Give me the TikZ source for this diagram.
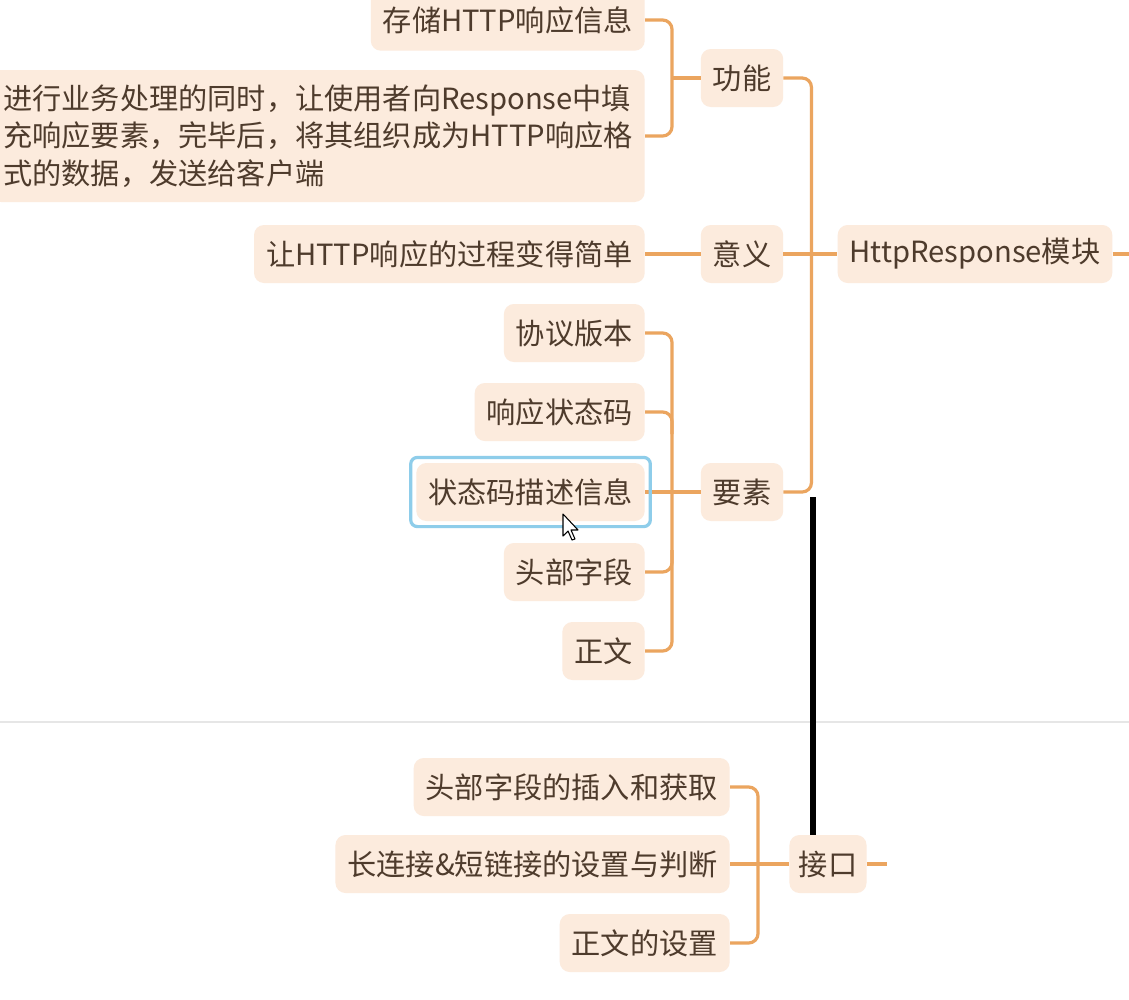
\documentclass[tikz,border=0pt]{standalone}
\usepackage{fontspec}
\setmainfont{Noto Sans CJK SC}
\usetikzlibrary{fit,calc}
\definecolor{boxfill}{HTML}{FCEBDD}
\definecolor{conncol}{HTML}{EBA55F}
\definecolor{txtcol}{HTML}{4E3B2C}
\definecolor{hlblue}{HTML}{8ECDEA}
\definecolor{sepgray}{HTML}{E6E6E6}
\tikzset{
  topic/.style={fill=boxfill, rounded corners=7.5pt, text=txtcol,
    font=\fontsize{21.9pt}{28pt}\selectfont, inner xsep=9pt, inner ysep=0pt,
    minimum height=43.5pt},
  conn/.style={draw=conncol, line width=2.4pt, rounded corners=7pt},
}
\begin{document}
\begin{tikzpicture}[x=0.75pt,y=-0.75pt]
\useasboundingbox[fill=white] (0,0) rectangle (1129,1000);
\clip (0,0) rectangle (1129,1000);

% separator
\draw[sepgray, line width=1.2pt] (0,722) -- (1129,722);

% level-2 nodes
\node[topic, minimum width=61.5pt] (gn) at (742,78) {功能};
\node[topic, minimum width=61.5pt] (yy) at (742,254) {意义};
\node[topic, minimum width=61.5pt] (ys) at (742,492) {要素};
\node[topic] (root) at (975,254) {HttpResponse模块};
\node[topic, inner xsep=7pt] (jk) at (828,864) {接口};

% functions
\node[topic, anchor=east, minimum height=46pt] (cc) at (645,20) {存储HTTP响应信息};
\node[topic, anchor=east, align=left, minimum height=99pt] (lt) at (645,136)
  {进行业务处理的同时，让使用者向Response中填\\充响应要素，完毕后，将其组织成为HTTP响应格\\式的数据，发送给客户端};
% meaning
\node[topic, anchor=east] (jd) at (645,254) {让HTTP响应的过程变得简单};
% elements
\node[topic, anchor=east] (xy) at (645,333) {协议版本};
\node[topic, anchor=east] (zt) at (645,412) {响应状态码};
\node[topic, anchor=east] (ms) at (645,492) {状态码描述信息};
\node[topic, anchor=east] (tb) at (645,572) {头部字段};
\node[topic, anchor=east] (zw) at (645,651) {正文};
% interface
\node[topic, anchor=east] (i1) at (730,787) {头部字段的插入和获取};
\node[topic, anchor=east] (i2) at (730,864) {长连接\&短链接的设置与判断};
\node[topic, anchor=east] (i3) at (730,943) {正文的设置};

\coordinate (rootout) at (1129,254);
\coordinate (jkout) at (887,864);

% connectors: function bracket
\draw[conn] (cc.east) -- ++(27,0) |- (lt.east);
\draw[conn] (gn.west) -- ++(-28,0);
% main trunk
\draw[conn] (gn.east) -- ++(28,0) |- (ys.east);
\draw[conn] (yy.east) -- (root.west);
\draw[conn] (jd.east) -- (yy.west);
\draw[conn] (root.east) -- (rootout);
% elements bracket
\draw[conn] (xy.east) -- ++(27,0) |- (zw.east);
\draw[conn] (zt.east) -| ++(27,22);
\draw[conn] (tb.east) -| ++(27,-22);
\draw[conn] (ms.east) -- (ys.west);
% interface bracket
\draw[conn] (i1.east) -- ++(28,0) |- (i3.east);
\draw[conn] (i2.east) -- (jk.west);
\draw[conn] (jk.east) -- (jkout);

% highlight box
\node[draw=hlblue, line width=2.4pt, rounded corners=5pt, fit=(ms), inner sep=4pt] (hl) {};

% black annotation stroke
\coordinate (bk1) at (813,497);
\coordinate (bk2) at (813,835);
\draw[black, line width=3.8pt] (bk1) -- (bk2);

% mouse cursor
\coordinate (cur) at (563,514);
\draw[fill=white, draw=black, line width=0.8pt, line join=round]
  (cur) -- ++(0,22) -- ++(5,-5) -- ++(4,9) -- ++(3,-1) -- ++(-4,-9) -- ++(7,0) -- cycle;
\end{tikzpicture}
\end{document}
